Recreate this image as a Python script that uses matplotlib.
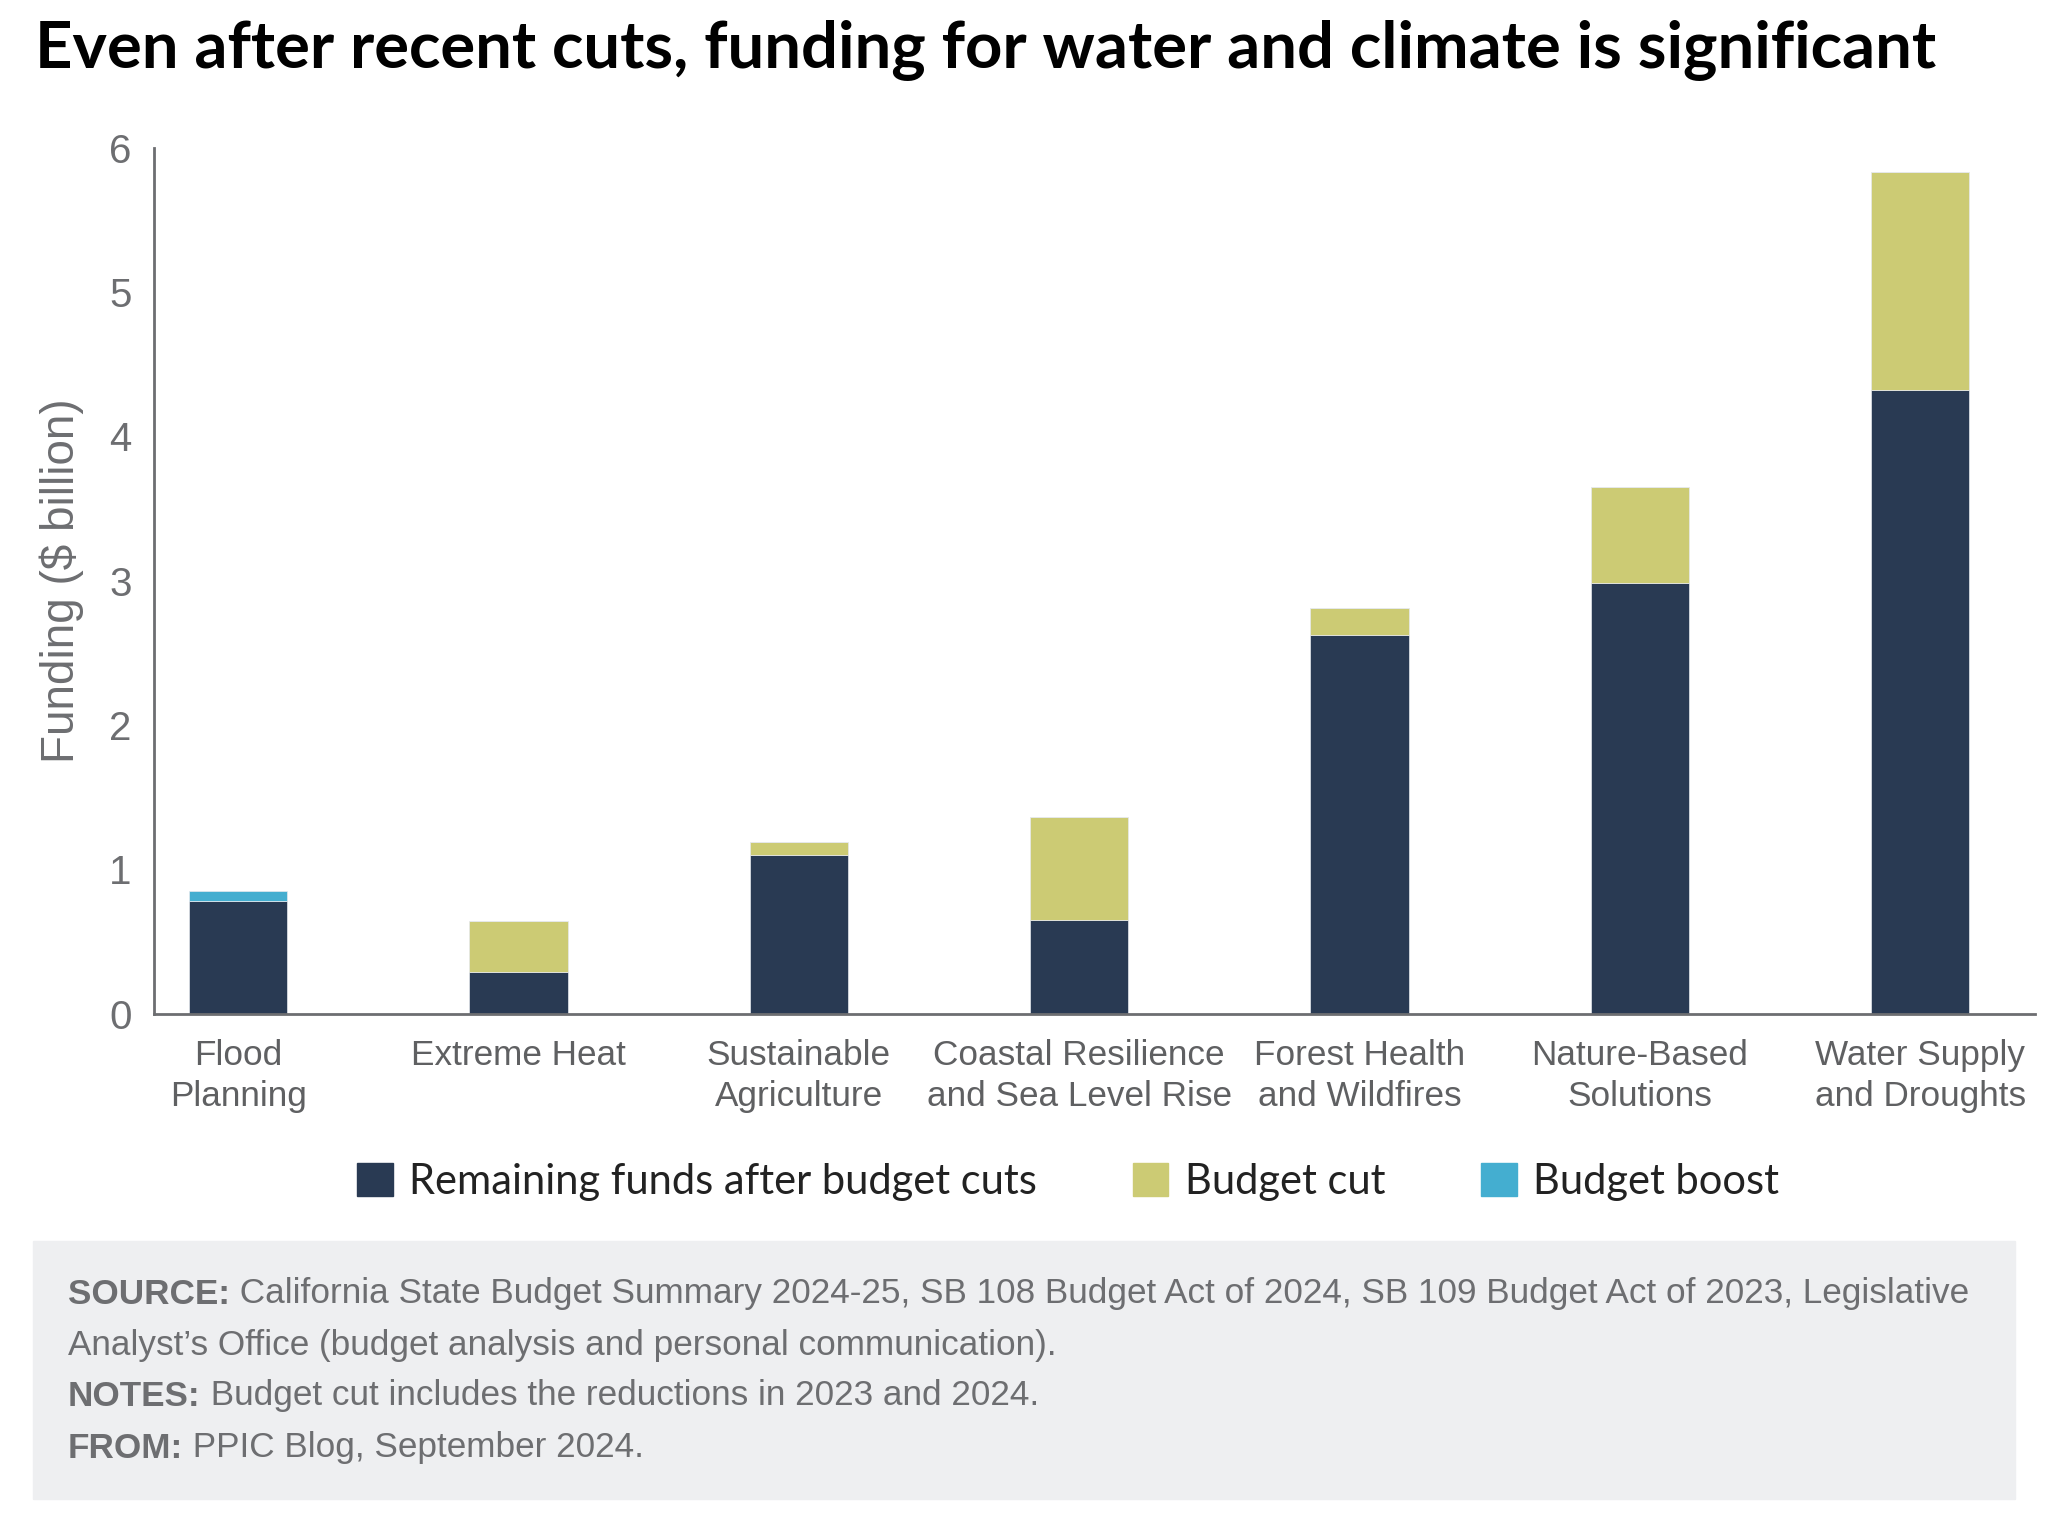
import matplotlib.pyplot as plt
from matplotlib.patches import Rectangle, Patch
import numpy as np

# data ($ billion)
categories = ['Flood\nPlanning', 'Extreme Heat', 'Sustainable\nAgriculture',
              'Coastal Resilience\nand Sea Level Rise', 'Forest Health\nand Wildfires',
              'Nature-Based\nSolutions', 'Water Supply\nand Droughts']
remaining = [0.78, 0.29, 1.10, 0.65, 2.62, 2.98, 4.32]
budget_cut = [0.00, 0.35, 0.09, 0.71, 0.19, 0.67, 1.51]
budget_boost = [0.07, 0.00, 0.00, 0.00, 0.00, 0.00, 0.00]

dark = '#293a53'
olive = '#cccb74'
blue = '#44aed0'
gray = '#6d6e71'

plt.rcParams['font.family'] = ['Liberation Sans', 'DejaVu Sans']

fig = plt.figure(figsize=(20.48, 15.17), dpi=100)
ax = fig.add_axes([0.0752, 0.3319, 0.9937 - 0.0752, 0.9027 - 0.3319])

x = np.arange(len(categories))
w = 0.35
ax.bar(x, remaining, w, color=dark, edgecolor='#e6e9ee', linewidth=0.5)
ax.bar(x, budget_cut, w, bottom=remaining, color=olive, edgecolor='#e6e9ee', linewidth=0.5)
tops = np.array(remaining) + np.array(budget_cut)
ax.bar(x, budget_boost, w, bottom=tops, color=blue, edgecolor='#e6e9ee', linewidth=0.5)

ax.set_xlim(-0.30, 6.41)
ax.set_ylim(0, 6)
ax.set_yticks(range(7))
ax.set_xticks(x)
ax.set_xticklabels(categories, fontsize=25.3, color='#5f6062', linespacing=1.34)
ax.tick_params(axis='y', labelsize=29, labelcolor=gray, length=0, pad=16)
ax.tick_params(axis='x', length=0, pad=18)
for s in ['top', 'right']:
    ax.spines[s].set_visible(False)
for s in ['left', 'bottom']:
    ax.spines[s].set_color(gray)
    ax.spines[s].set_linewidth(2)
ax.set_ylabel('Funding ($ billion)', fontsize=33, color=gray, labelpad=18)

fig.text(35 / 2048, 1 - 68 / 1517,
         'Even after recent cuts, funding for water and climate is significant',
         fontsize=47, fontweight='bold', color='black', family=['Lato', 'DejaVu Sans'],
         va='baseline', ha='left')

handles = [Patch(color=dark, label='Remaining funds after budget cuts'),
           Patch(color=olive, label='Budget cut'),
           Patch(color=blue, label='Budget boost')]
fig.legend(handles=handles, loc='center', bbox_to_anchor=(0.5216, 1 - 1182 / 1517),
           ncol=3, frameon=False, prop={'family': ['Lato', 'DejaVu Sans'], 'size': 30},
           handlelength=0.85, handleheight=0.85, handletextpad=0.4, columnspacing=2.3,
           labelcolor='#222222')

# footer box
fig.patches.append(Rectangle((33 / 2048, 1 - 1499 / 1517), (2015 - 33) / 2048, (1499 - 1241) / 1517,
                             transform=fig.transFigure, color='#eeeff1', zorder=0))
foot = [('SOURCE:', ' California State Budget Summary 2024-25, SB 108 Budget Act of 2024, SB 109 Budget Act of 2023, Legislative'),
        ('', 'Analyst\u2019s Office (budget analysis and personal communication).'),
        ('NOTES:', ' Budget cut includes the reductions in 2023 and 2024.'),
        ('FROM:', ' PPIC Blog, September 2024.')]
ys = [1294, 1345, 1396, 1448]
for (b, t), yy in zip(foot, ys):
    tx = fig.text(68 / 2048, 1 - yy / 1517, b, fontsize=25.3, fontweight='bold', color=gray, va='center')
    fig.canvas.draw()
    bb = tx.get_window_extent()
    fig.text(bb.x1 / 2048, 1 - yy / 1517, t, fontsize=25.3, color=gray, va='center')

plt.savefig('out.png', dpi=100)
